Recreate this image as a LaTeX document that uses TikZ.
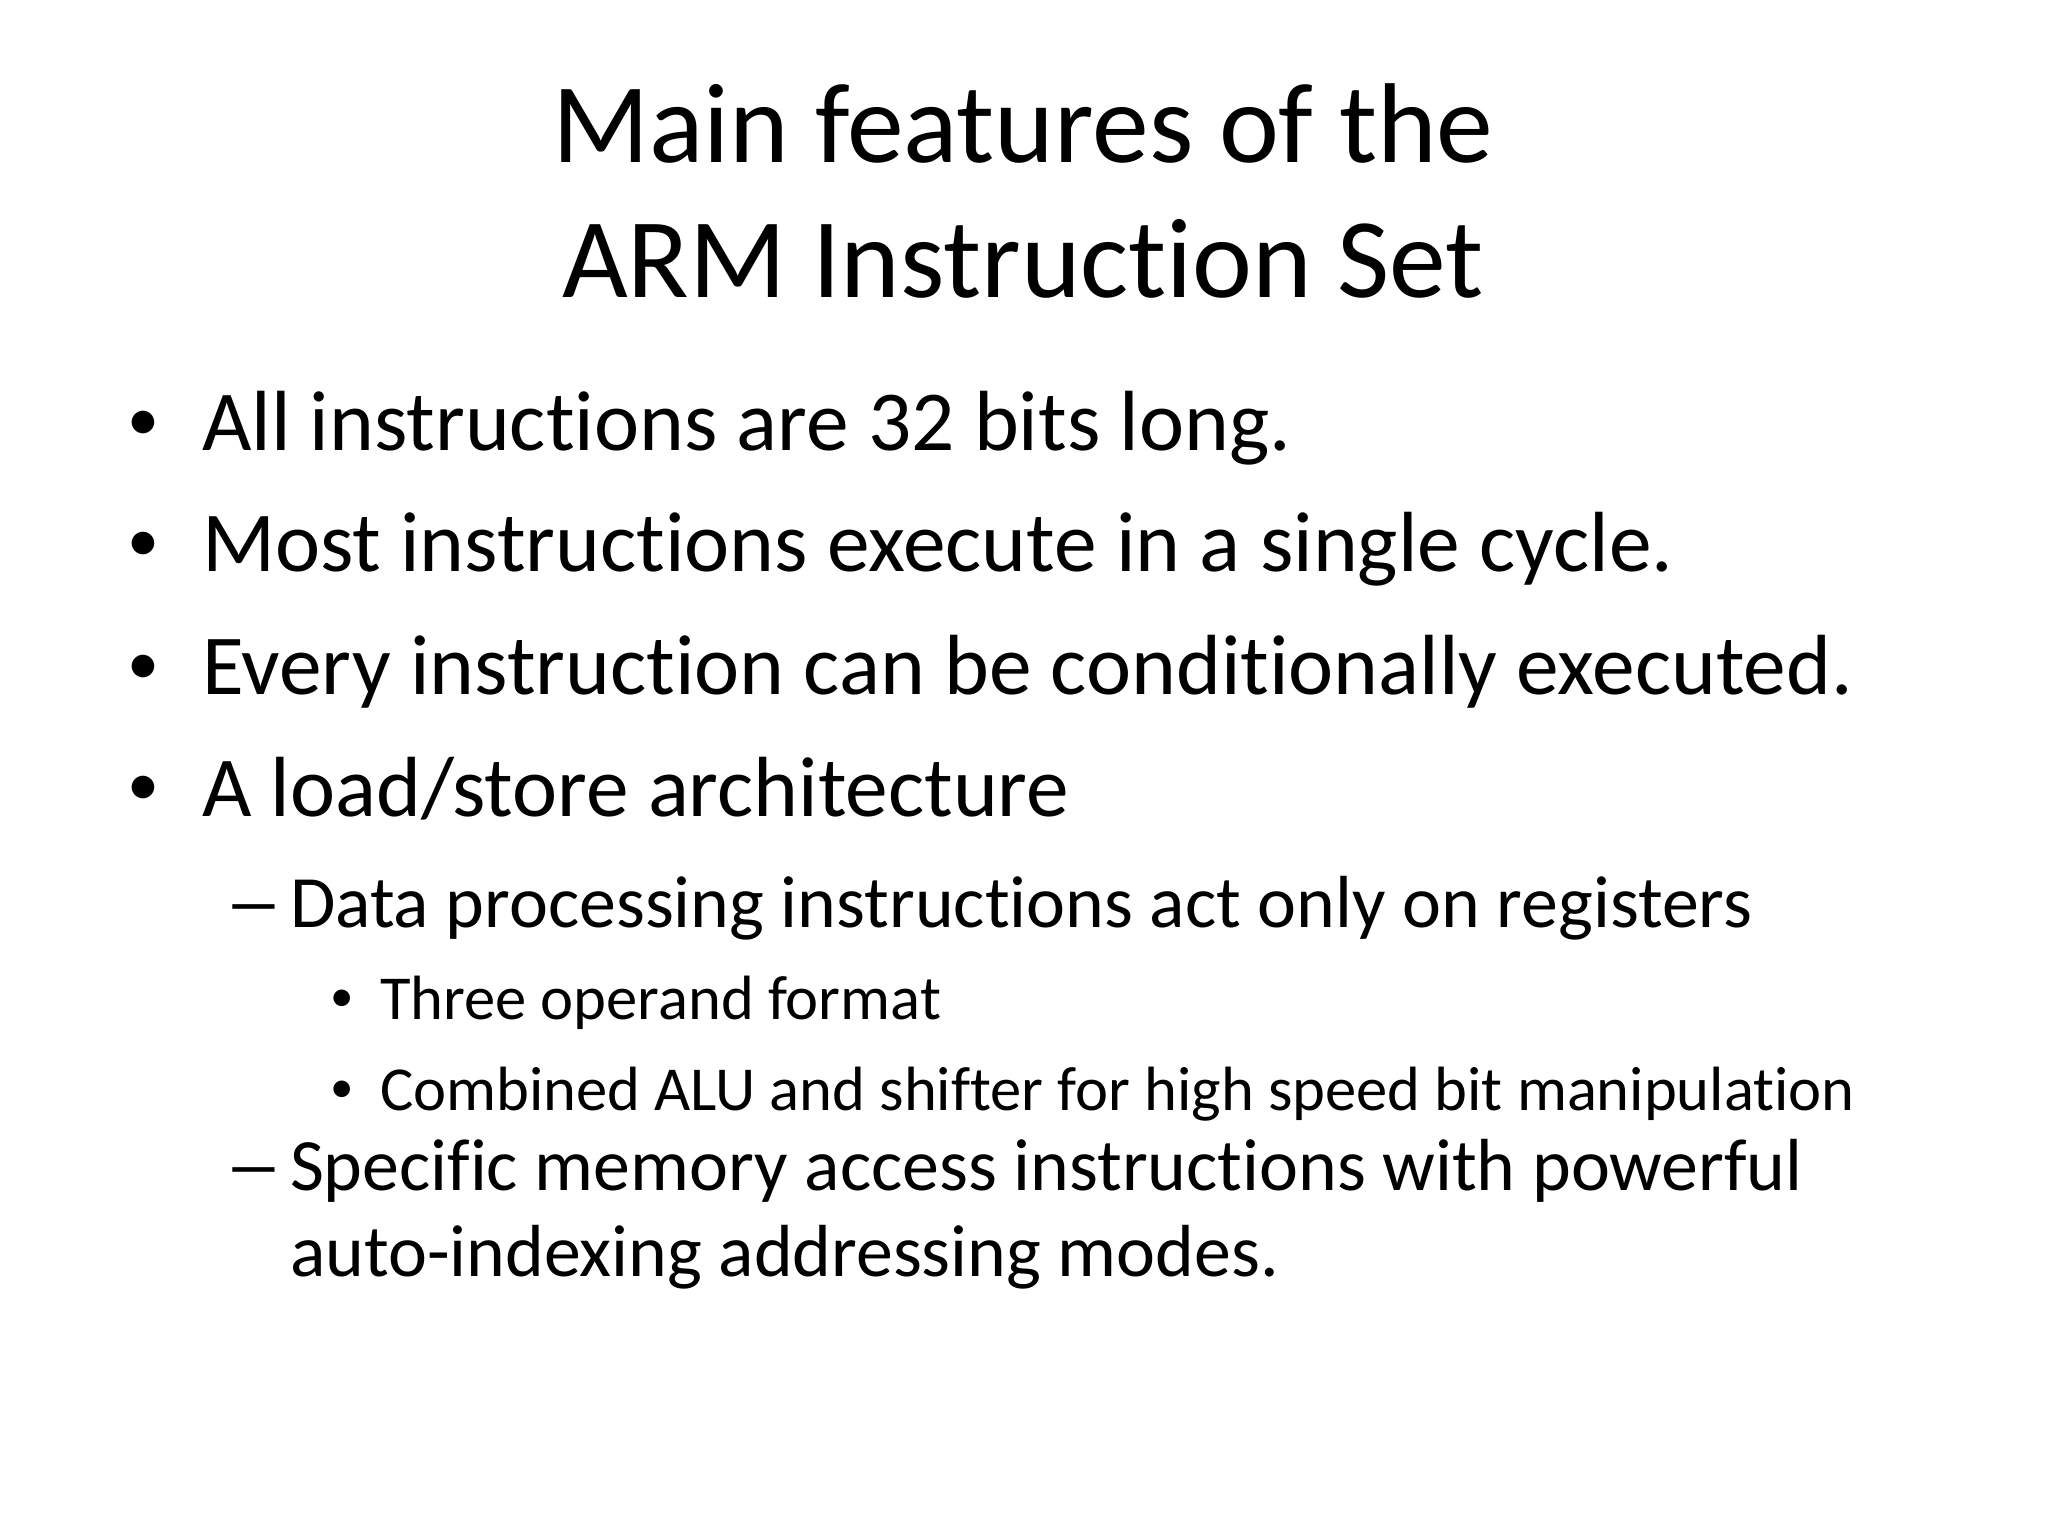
\documentclass[tikz,border=0pt]{standalone}
\usepackage{fontspec}
\setmainfont{Carlito}[Ligatures={NoCommon,NoContextual}]
\usetikzlibrary{positioning}
\newcommand{\smallbul}{\raisebox{0.12em}{\scalebox{0.75}{\textbullet}}}
\newcommand{\longdash}{\scalebox{1.6}[1]{--}}
\begin{document}
\begin{tikzpicture}[
    every node/.style={inner sep=0pt, outer sep=0pt},
    titletext/.style={anchor=base, font=\fontsize{32.3}{38}\selectfont},
    lvlone/.style={anchor=base west, font=\fontsize{24.3}{29}\selectfont},
    lvltwo/.style={anchor=base west, font=\fontsize{21}{25}\selectfont},
    lvlthree/.style={anchor=base west, font=\fontsize{17.8}{21}\selectfont}
]
    \useasboundingbox (0,0) rectangle (20.48,-15.36);

    % Title
    \node[titletext] (title1) at (10.23,-1.63) {Main features of the};
    \node[titletext] (title2) at (10.23,-2.98) {ARM Instruction Set};

    % First level bullets
    \node[lvlone] (b1) at (1.27,-4.51) {\smallbul};
    \node[lvlone] (t1) at (2.02,-4.51) {All instructions are 32 bits long.};
    \node[lvlone] (b2) at (1.27,-5.72) {\smallbul};
    \node[lvlone] (t2) at (2.02,-5.72) {Most instructions execute in a single cycle.};
    \node[lvlone] (b3) at (1.27,-6.95) {\smallbul};
    \node[lvlone] (t3) at (2.02,-6.95) {Every instruction can be conditionally executed.};
    \node[lvlone] (b4) at (1.27,-8.16) {\smallbul};
    \node[lvlone] (t4) at (2.02,-8.16) {A load/store architecture};

    % Second level
    \node[lvltwo] (d1) at (2.24,-9.27) {\longdash};
    \node[lvltwo] (s1) at (2.90,-9.27) {Data processing instructions act only on registers};

    % Third level
    \node[lvlthree] (c1) at (3.30,-10.19) {\smallbul};
    \node[lvlthree] (u1) at (3.80,-10.19) {Three operand format};
    \node[lvlthree] (c2) at (3.30,-11.10) {\smallbul};
    \node[lvlthree] (u2) at (3.80,-11.10) {Combined ALU and shifter for high speed bit manipulation};

    % Second level again
    \node[lvltwo] (d2) at (2.24,-11.90) {\longdash};
    \node[lvltwo] (s2) at (2.90,-11.90) {Specific memory access instructions with powerful};
    \node[lvltwo] (s3) at (2.90,-12.76) {auto-indexing addressing modes.};
\end{tikzpicture}
\end{document}
